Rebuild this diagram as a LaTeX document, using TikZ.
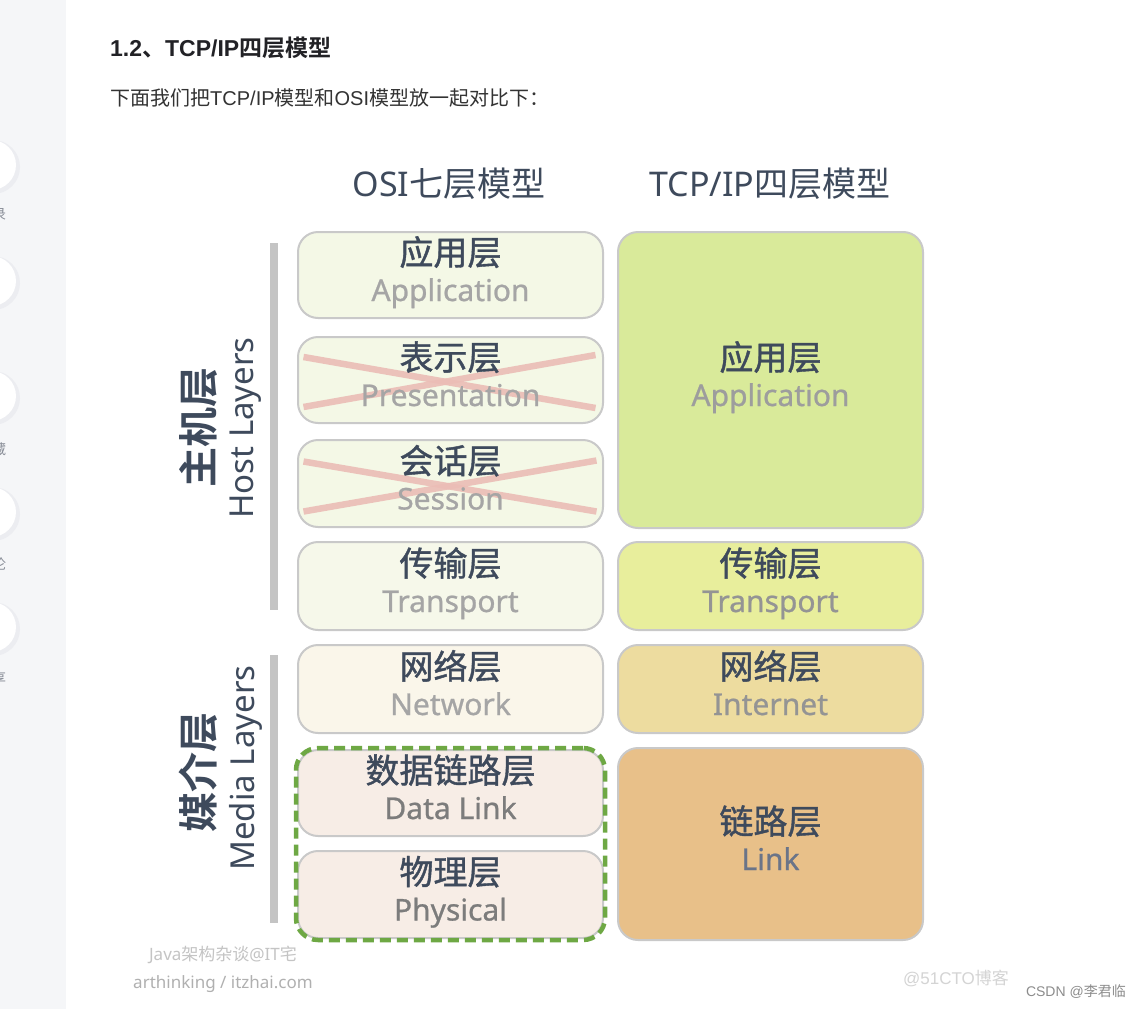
\documentclass[tikz,border=0pt]{standalone}
\usepackage{fontspec}
\setmainfont{Noto Sans}
\newfontfamily\cjk{Noto Sans CJK SC}[BoldFont={Noto Sans CJK SC Bold}]
\newfontfamily\cjkm{Noto Sans CJK SC}[FakeBold=1.2]
\newfontfamily\enm{Noto Sans}[FakeBold=0.8]
\newfontfamily\arial{Liberation Sans}
\usetikzlibrary{calc,fit}
\definecolor{sidebg}{HTML}{F5F6F8}
\definecolor{sideshadow}{HTML}{ECEDF1}
\definecolor{sidetext}{HTML}{8A8F99}
\definecolor{headink}{HTML}{222226}
\definecolor{bodyink}{HTML}{333333}
\definecolor{ink}{HTML}{3E4A5C}
\definecolor{boxgray}{HTML}{C9C9C9}
\definecolor{bargray}{HTML}{C4C4C4}
\definecolor{engray}{HTML}{A5A5A5}
\definecolor{endark}{HTML}{7C7C7C}
\definecolor{linkink}{HTML}{6A7488}
\definecolor{fA}{HTML}{F4F8E6}
\definecolor{fT}{HTML}{F6F8EA}
\definecolor{fN}{HTML}{FAF6EA}
\definecolor{fD}{HTML}{F7EDE6}
\definecolor{rA}{HTML}{D9EA9A}
\definecolor{rT}{HTML}{E8EE9C}
\definecolor{rN}{HTML}{EDDC9F}
\definecolor{rL}{HTML}{E8C089}
\definecolor{crossred}{HTML}{EBBDB6}
\definecolor{dashgreen}{HTML}{6EA844}
\definecolor{wmgray}{HTML}{C4C4C4}
\definecolor{wmlight}{HTML}{D4D4D4}
\definecolor{csdn}{HTML}{8C8C8C}
\tikzset{
  layerbox/.style={draw=boxgray, line width=2pt, rounded corners=20pt,
    minimum width=305pt, inner sep=0pt},
  cn/.style={font=\cjkm\fontsize{34}{37}\selectfont, text=ink, anchor=base, inner sep=0pt},
  en/.style={font=\enm\fontsize{30}{34}\selectfont, text=engray, anchor=base, inner sep=0pt},
  coltitle/.style={font=\fontsize{34}{38}\selectfont, text=ink, anchor=base, inner sep=0pt},
  sidecn/.style={font=\cjk\bfseries\fontsize{40}{44}\selectfont, text=ink, rotate=90, inner sep=0pt},
  sideen/.style={font=\fontsize{33}{36}\selectfont, text=ink, rotate=90, inner sep=0pt},
  crossline/.style={draw=crossred, line width=6.5pt, opacity=0.9},
  sidebtn/.style={circle, fill=white, minimum size=50pt, inner sep=0pt},
  sidebtnshadow/.style={circle, fill=sideshadow, minimum size=54pt, inner sep=0pt},
  sidelabel/.style={font=\cjk\fontsize{14}{16}\selectfont, text=sidetext, inner sep=0pt},
}
\begin{document}
\begin{tikzpicture}[x=1pt,y=-1pt]
\useasboundingbox (0,0) rectangle (1140,1009);
\fill[white] (0,0) rectangle (1140,1009);
% sidebar
\fill[sidebg] (0,0) rectangle (66,1009);
\foreach \yy/\nm in {165/a,281/b,396/c,512/d,627/e}{
  \node[sidebtnshadow] (sh\nm) at (-7,\yy+2) {};
  \node[sidebtn] (sb\nm) at (-9,\yy) {};
}
\node[sidelabel] (sl1) at (-1,215) {录};
\node[sidelabel] (sl2) at (-1,449) {藏};
\node[sidelabel] (sl3) at (-1,564) {论};
\node[sidelabel] (sl4) at (-1,678) {享};
% header text
\node[anchor=base west, inner sep=0pt, text=headink] (head) at (110,56)
  {\fontsize{23}{26}\selectfont\bfseries\arial 1.2\cjk 、\arial TCP/IP\cjk 四层模型};
\node[anchor=base west, inner sep=0pt, text=bodyink] (intro) at (110,105)
  {\fontsize{20}{24}\selectfont\cjk 下面我们把\arial TCP/IP\cjk 模型和\arial OSI\cjk 模型放一起对比下：};
% column titles
\node[coltitle] (t1) at (449,196) {OSI{\cjk 七层模型}};
\node[coltitle] (t2) at (770,196) {TCP/IP{\cjk 四层模型}};
% side bars
\fill[bargray] (270,243) rectangle (278,610);
\fill[bargray] (270,655) rectangle (278,923);
\node[sidecn] (host) at (198,427) {主机层};
\node[sideen] (hostl) at (246,428) {Host Layers};
\node[sidecn] (media) at (198,772) {媒介层};
\node[sideen] (medial) at (246,768) {Media Layers};
% left column boxes
\node[layerbox, fill=fA, minimum height=86pt] (l1) at (450.5,275) {};
\node[layerbox, fill=fA, minimum height=86pt] (l2) at (450.5,380) {};
\node[layerbox, fill=fA, minimum height=87pt] (l3) at (450.5,483.5) {};
\node[layerbox, fill=fT, minimum height=88pt] (l4) at (450.5,586) {};
\node[layerbox, fill=fN, minimum height=88pt] (l5) at (450.5,689) {};
\node[layerbox, fill=fD, minimum height=86pt] (l6) at (450.5,793) {};
\node[layerbox, fill=fD, minimum height=87pt] (l7) at (450.5,894.5) {};
% right column boxes
\node[layerbox, fill=rA, minimum height=296pt] (r1) at (770.5,380) {};
\node[layerbox, fill=rT, minimum height=88pt] (r2) at (770.5,586) {};
\node[layerbox, fill=rN, minimum height=88pt] (r3) at (770.5,689) {};
\node[layerbox, fill=rL, minimum height=192pt] (r4) at (770.5,844) {};
% crosses (behind the labels)
\draw[crossline] ($(l2.center)+(-147,-23)$) -- ($(l2.center)+(145,28)$);
\draw[crossline] ($(l2.center)+(-147,27)$) -- ($(l2.center)+(145,-25)$);
\draw[crossline] ($(l3.center)+(-147,-22)$) -- ($(l3.center)+(146,28)$);
\draw[crossline] ($(l3.center)+(-147,28)$) -- ($(l3.center)+(146,-23)$);
% labels left
\node[cn] (l1c) at ($(l1.center)+(0,-10)$) {应用层};
\node[en] (l1e) at ($(l1.center)+(0,26)$) {Application};
\node[cn] (l2c) at ($(l2.center)+(0,-10)$) {表示层};
\node[en] (l2e) at ($(l2.center)+(0,26)$) {Presentation};
\node[cn] (l3c) at ($(l3.center)+(0,-10)$) {会话层};
\node[en] (l3e) at ($(l3.center)+(0,26)$) {Session};
\node[cn] (l4c) at ($(l4.center)+(0,-10)$) {传输层};
\node[en] (l4e) at ($(l4.center)+(0,26)$) {Transport};
\node[cn] (l5c) at ($(l5.center)+(0,-10)$) {网络层};
\node[en] (l5e) at ($(l5.center)+(0,26)$) {Network};
\node[cn] (l6c) at ($(l6.center)+(0,-10)$) {数据链路层};
\node[en, text=endark] (l6e) at ($(l6.center)+(0,26)$) {Data Link};
\node[cn] (l7c) at ($(l7.center)+(0,-10)$) {物理层};
\node[en, text=endark] (l7e) at ($(l7.center)+(0,26)$) {Physical};
% labels right
\node[cn] (r1c) at ($(r1.center)+(0,-10)$) {应用层};
\node[en, text=engray!95!black] (r1e) at ($(r1.center)+(0,26)$) {Application};
\node[cn] (r2c) at ($(r2.center)+(0,-10)$) {传输层};
\node[en, text=engray!90!black] (r2e) at ($(r2.center)+(0,26)$) {Transport};
\node[cn] (r3c) at ($(r3.center)+(0,-10)$) {网络层};
\node[en, text=engray!90!black] (r3e) at ($(r3.center)+(0,26)$) {Internet};
\node[cn] (r4c) at ($(r4.center)+(0,-10)$) {链路层};
\node[en, text=linkink] (r4e) at ($(r4.center)+(0,26)$) {Link};
% dashed green group
\node[fit=(l6)(l7), inner sep=1pt, draw=dashgreen, line width=4.5pt,
  dash pattern=on 11pt off 6pt, rounded corners=22pt] (grp) {};
% watermarks
\node[inner sep=0pt, text=wmgray, font=\fontsize{17}{20}\selectfont] (wm1) at (223,955) {Java{\cjk 架构杂谈}@IT{\cjk 宅}};
\node[inner sep=0pt, text=wmgray!90!black, font=\fontsize{17}{20}\selectfont] (wm2) at (223,984) {arthinking / itzhai.com};
\node[inner sep=0pt, text=wmlight, font=\fontsize{17}{20}\selectfont] (wm3) at (956,978) {\arial @51CTO\cjk 博客};
\node[inner sep=0pt, text=csdn, font=\fontsize{14}{16}\selectfont, anchor=east] (csdnl) at (1126,992) {\arial CSDN @\cjk 李君临};
\end{tikzpicture}
\end{document}
